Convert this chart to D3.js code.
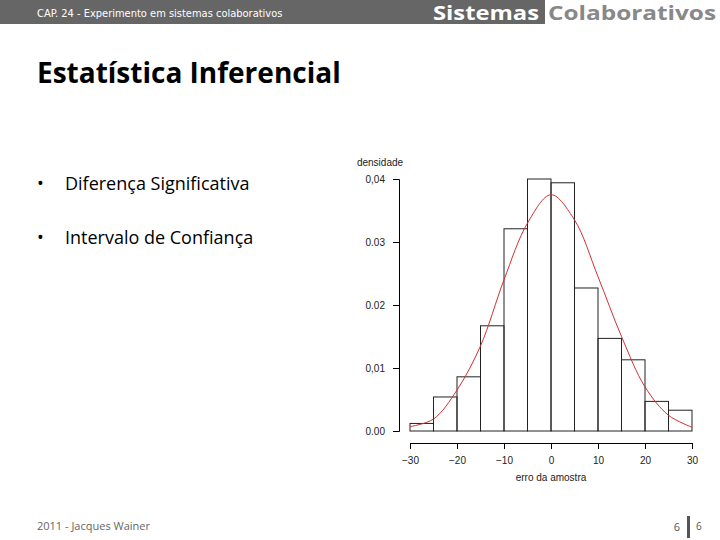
<!DOCTYPE html>
<html><head><meta charset="utf-8">
<script src="https://cdn.jsdelivr.net/npm/d3@7"></script>
<style>body{margin:0;background:#fff}svg{display:block}</style>
</head><body><svg width="720" height="540"></svg>
<script>
// histogram bins (left edges) and densities
var binStarts = [-30, -25, -20, -15, -10, -5, 0, 5, 10, 15, 20, 25];
var densities = [0.0012, 0.0054, 0.0086, 0.0167, 0.0321, 0.0400, 0.0394, 0.0227, 0.0147, 0.0113, 0.0047, 0.0033];
var curveX = [-30, -25, -20, -15, -10, -5, 0, 5, 10, 15, 20, 25, 30];
var curveY = [0.0007, 0.0019, 0.0065, 0.0135, 0.0240, 0.0330, 0.0375, 0.0335, 0.0245, 0.0150, 0.0070, 0.0025, 0.0006];
var yTicks = [0, 0.01, 0.02, 0.03, 0.04];
var yTickLabels = ["0.00", "0,01", "0.02", "0.03", "0,04"];
var xTicks = [-30, -20, -10, 0, 10, 20, 30];
var bullets = ["Diferença Significativa", "Intervalo de Confiança"];

var svg = d3.select("svg");

// header
svg.append("rect").attr("x", 0).attr("y", 0).attr("width", 545).attr("height", 24).attr("fill", "#666");
svg.append("text").attr("x", 37).attr("y", 17).attr("fill", "#fff")
  .style("font", "11px 'Liberation Sans Narrow', 'DejaVu Sans Condensed', sans-serif")
  .text("CAP. 24 - Experimento em sistemas colaborativos");
svg.append("text").attr("x", 433).attr("y", 20).attr("fill", "#fff")
  .attr("textLength", 106).attr("lengthAdjust", "spacingAndGlyphs")
  .style("font", "bold 20px 'Open Sans', sans-serif").text("Sistemas");
svg.append("text").attr("x", 548).attr("y", 20).attr("fill", "#888")
  .attr("textLength", 168).attr("lengthAdjust", "spacingAndGlyphs")
  .style("font", "bold 20px 'Open Sans', sans-serif").text("Colaborativos");

svg.append("text").attr("x", 37).attr("y", 83).attr("fill", "#000")
  .style("font", "bold 28px 'Open Sans', sans-serif").text("Estatística Inferencial");

bullets.forEach(function (d, i) {
  var yy = 190 + i * 54;
  svg.append("text").attr("x", 37).attr("y", yy).style("font", "18px 'Open Sans', sans-serif").text("•");
  svg.append("text").attr("x", 65).attr("y", yy).style("font", "18px 'Open Sans', sans-serif").text(d);
});

svg.append("text").attr("x", 37).attr("y", 530).attr("fill", "#666")
  .style("font", "11px 'Open Sans', sans-serif").text("2011 - Jacques Wainer");
svg.append("text").attr("x", 680).attr("y", 531).attr("text-anchor", "end").attr("fill", "#555")
  .style("font", "11px 'Open Sans', sans-serif").text("6");
svg.append("rect").attr("x", 687).attr("y", 516).attr("width", 3).attr("height", 22).attr("fill", "#555");
svg.append("text").attr("x", 696).attr("y", 530).attr("fill", "#555")
  .style("font", "10px 'Open Sans', sans-serif").text("6");

// chart
var x = d3.scaleLinear().domain([-30, 30]).range([410, 692]);
var y = d3.scaleLinear().domain([0, 0.04]).range([431, 179]);
var g = svg.append("g");

g.selectAll(".bar").data(binStarts).enter().append("rect")
  .attr("x", function (d) { return x(d); })
  .attr("y", function (d, i) { return y(densities[i]); })
  .attr("width", function (d) { return x(d + 5) - x(d); })
  .attr("height", function (d, i) { return y(0) - y(densities[i]); })
  .attr("fill", "none").attr("stroke", "#222").attr("stroke-width", 1);

var line = d3.line().x(function (d) { return x(d); })
  .y(function (d, i) { return y(curveY[i]); }).curve(d3.curveCatmullRom);
g.append("path").attr("d", line(curveX)).attr("fill", "none").attr("stroke", "#d03030").attr("stroke-width", 1);

var yAxis = g.append("g").attr("transform", "translate(399,0)")
  .call(d3.axisLeft(y).tickValues(yTicks).tickSize(6).tickPadding(8).tickFormat(function (d, i) { return yTickLabels[i]; }));
var xAxis = g.append("g").attr("transform", "translate(0,443)")
  .call(d3.axisBottom(x).tickValues(xTicks).tickSize(6).tickFormat(d3.format("d")));
[yAxis, xAxis].forEach(function (a) {
  a.select(".domain").attr("stroke", "#000");
  a.selectAll("text").style("font", "10px 'Liberation Sans', Arial, sans-serif").attr("fill", "#222");
});
xAxis.selectAll("text").attr("dy", "1.2em");

g.style("font", "10px 'Liberation Sans', Arial, sans-serif");
g.append("text").attr("x", 380).attr("y", 166).attr("text-anchor", "middle").attr("fill", "#222").text("densidade");
g.append("text").attr("x", 551).attr("y", 481).attr("text-anchor", "middle").attr("fill", "#222").text("erro da amostra");
</script></body></html>
